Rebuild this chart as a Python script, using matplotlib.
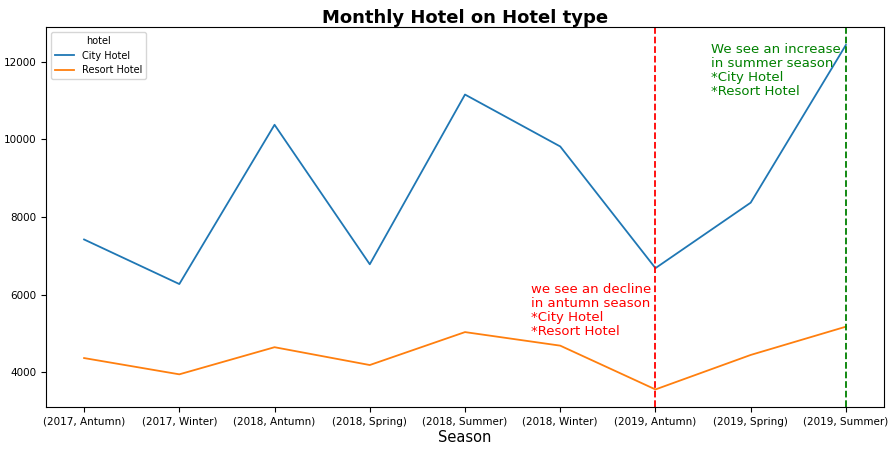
import matplotlib
matplotlib.use("Agg")
import matplotlib.pyplot as plt

labels = ["(2017, Antumn)", "(2017, Winter)", "(2018, Antumn)", "(2018, Spring)", "(2018, Summer)",
          "(2018, Winter)", "(2019, Antumn)", "(2019, Spring)", "(2019, Summer)"]
city = [7420, 6270, 10380, 6780, 11160, 9820, 6680, 8370, 12440]
resort = [4360, 3940, 4640, 4180, 5030, 4680, 3550, 4440, 5170]

fig = plt.figure(figsize=(8.94, 4.49), dpi=100)
ax = fig.add_axes([46/894, 1-407/449, 838/894, 380/449])
x = range(len(labels))
ax.plot(x, city, color="#1f77b4", label="City Hotel", lw=1.3)
ax.plot(x, resort, color="#ff7f0e", label="Resort Hotel", lw=1.3)
ax.set_xticks(list(x))
ax.set_xticklabels(labels, fontsize=7.5)
ax.tick_params(axis="y", labelsize=7.5)
ax.set_xlim(-0.4, 8.4)
ax.set_ylim(3097, 12903)
ax.set_yticks([4000, 6000, 8000, 10000, 12000])
ax.axvline(6, color="red", ls="--", lw=1.3)
ax.axvline(8, color="green", ls="--", lw=1.3)
ax.text(4.69, 6300, "we see an decline\nin antumn season\n*City Hotel\n*Resort Hotel",
        color="red", fontsize=9.5, va="top", linespacing=1.12)
ax.text(6.58, 12500, "We see an increase\nin summer season\n*City Hotel\n*Resort Hotel",
        color="green", fontsize=9.5, va="top", linespacing=1.12)
ax.set_xlabel("Season", fontsize=10.5, labelpad=2)
ax.set_title("Monthly Hotel on Hotel type", fontsize=13, fontweight="bold", pad=3)
ax.legend(title="hotel", loc="upper left", fontsize=7, title_fontsize=7)
fig.savefig("out.png", dpi=100)
